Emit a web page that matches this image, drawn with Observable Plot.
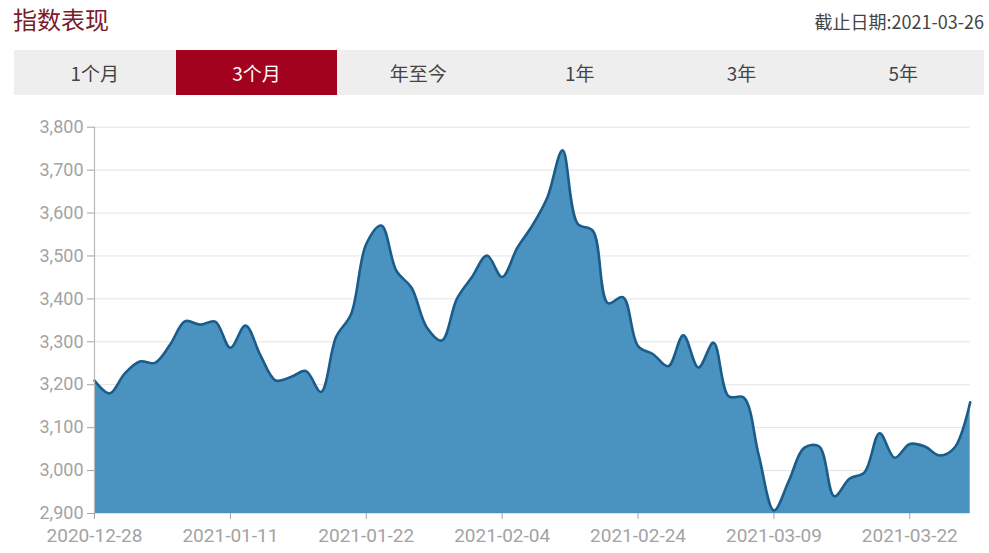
<!DOCTYPE html>
<html>
<head>
<meta charset="utf-8">
<script src="https://cdn.jsdelivr.net/npm/d3@7"></script>
<script src="https://cdn.jsdelivr.net/npm/@observablehq/plot@0.6"></script>
<style>
  html, body { margin: 0; padding: 0; background: #ffffff; width: 989px; height: 553px; overflow: hidden; }
  body { position: relative; font-family: "Noto Sans CJK SC", "Open Sans", sans-serif; }
  #title { position: absolute; left: 13px; top: 5px; font-size: 24px; line-height: 28px; color: #7b1b2b; }
  #asof { position: absolute; right: 5px; top: 10px; font-size: 18px; line-height: 22px; color: #444; }
  #tabs { position: absolute; left: 14px; top: 50px; width: 970px; height: 45px; background: #eeeeee; display: flex; }
  .tab { flex: 1; text-align: center; line-height: 45px; font-size: 19px; color: #444; }
  .tab.sel { background: #a3021f; color: #ffffff; }
  #chart { position: absolute; left: 0; top: 100px; }
</style>
</head>
<body>
<div id="title"></div>
<div id="asof"></div>
<div id="tabs"></div>
<div id="chart"></div>
<script>
// ---- data ----
const titleText = "指数表现";
const asOfText = "截止日期:2021-03-26";
const tabLabels = ["1个月", "3个月", "年至今", "1年", "3年", "5年"];
const selectedTab = "3个月";

const dates = [
  "2020-12-28","2020-12-29","2020-12-30","2020-12-31","2021-01-04","2021-01-05","2021-01-06","2021-01-07","2021-01-08",
  "2021-01-11","2021-01-12","2021-01-13","2021-01-14","2021-01-15","2021-01-18","2021-01-19","2021-01-20","2021-01-21",
  "2021-01-22","2021-01-25","2021-01-26","2021-01-27","2021-01-28","2021-01-29","2021-02-01","2021-02-02","2021-02-03",
  "2021-02-04","2021-02-05","2021-02-08","2021-02-09","2021-02-10","2021-02-18","2021-02-19","2021-02-22","2021-02-23",
  "2021-02-24","2021-02-25","2021-02-26","2021-03-01","2021-03-02","2021-03-03","2021-03-04","2021-03-05","2021-03-08",
  "2021-03-09","2021-03-10","2021-03-11","2021-03-12","2021-03-15","2021-03-16","2021-03-17","2021-03-18","2021-03-19",
  "2021-03-22","2021-03-23","2021-03-24","2021-03-25","2021-03-26"
];
const values = [
  3210, 3180, 3226, 3254, 3251, 3293, 3348, 3340, 3347,
  3286, 3338, 3268, 3210, 3218, 3232, 3183, 3311, 3365,
  3528, 3571, 3465, 3426, 3334, 3303, 3400, 3451, 3501,
  3451, 3519, 3571, 3637, 3746, 3575, 3559, 3390, 3404,
  3290, 3271, 3243, 3315, 3240, 3298, 3173, 3170, 3035,
  2907, 2977, 3053, 3056, 2940, 2981, 2996, 3087, 3030,
  3062, 3056, 3035, 3055, 3159
];
const yTicks = [2900, 3000, 3100, 3200, 3300, 3400, 3500, 3600, 3700, 3800];
const xTickDates = ["2020-12-28","2021-01-11","2021-01-22","2021-02-04","2021-02-24","2021-03-09","2021-03-22"];

// ---- header ----
document.getElementById("title").textContent = titleText;
document.getElementById("asof").textContent = asOfText;
const tabsEl = document.getElementById("tabs");
for (const t of tabLabels) {
  const d = document.createElement("div");
  d.className = "tab" + (t === selectedTab ? " sel" : "");
  d.textContent = t;
  tabsEl.appendChild(d);
}

// ---- chart ----
const data = dates.map((d, i) => ({i, date: d, value: values[i]}));
const xTicks = xTickDates.map(d => dates.indexOf(d));
const yMin = yTicks[0], yMax = yTicks[yTicks.length - 1];

const chart = Plot.plot({
  width: 989,
  height: 453,
  marginTop: 26.7,
  marginBottom: 40,
  marginLeft: 94,
  marginRight: 19.3,
  style: {fontFamily: "Roboto, 'Open Sans', sans-serif", background: "transparent", overflow: "visible"},
  x: {type: "linear", domain: [0, dates.length - 1]},
  y: {domain: [yMin, yMax]},
  marks: [
    Plot.gridY(yTicks, {stroke: "#e4e4e4", strokeOpacity: 1, strokeWidth: 1}),
    Plot.areaY(data, {x: "i", y1: yMin, y2: "value", fill: "#4a92bf", curve: "catmull-rom"}),
    Plot.lineY(data, {x: "i", y: "value", stroke: "#1b5d8a", strokeWidth: 2.6, curve: "catmull-rom"}),
    Plot.ruleY([yMin], {stroke: "#d6e6f0"}),
    Plot.ruleX([0], {stroke: "#b8b8b8", strokeWidth: 1.2}),
    Plot.axisY(yTicks, {tickFormat: d3.format(","), fontSize: 18, tickSize: 7, tickPadding: 4, color: "#a3a3a3", label: null}),
    Plot.axisX(xTicks, {tickFormat: i => dates[i], fontSize: 19, tickSize: 6, tickPadding: 9, color: "#a3a3a3", label: null})
  ]
});
document.getElementById("chart").appendChild(chart);
</script>
</body>
</html>
